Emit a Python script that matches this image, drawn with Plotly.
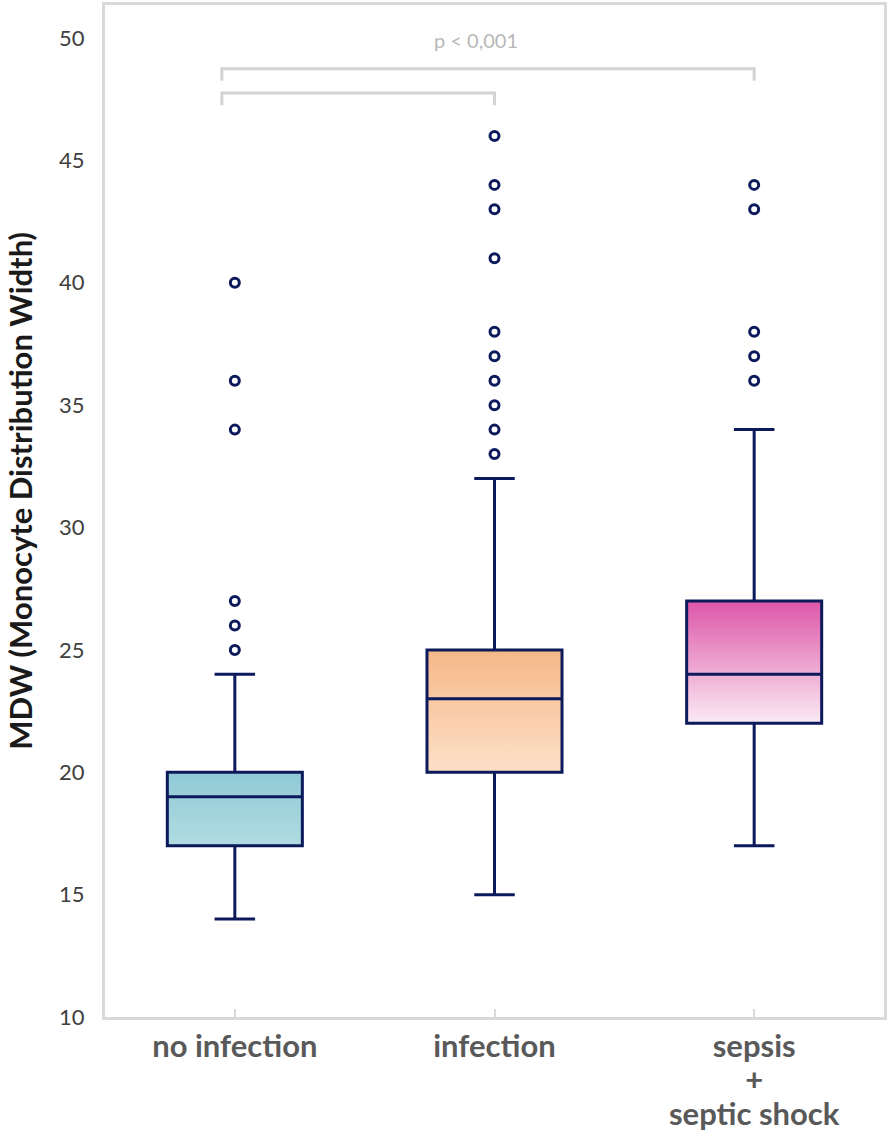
import plotly.graph_objs as go

# box statistics
groups = ["no infection", "infection", "sepsis<br>+<br>septic shock"]
lower_whisker = [14, 15, 17]
q1 = [17, 20, 22]
median = [19, 23, 24]
q3 = [20, 25, 27]
upper_whisker = [24, 32, 34]

outliers = [
    [25, 26, 27, 34, 36, 40],
    [33, 34, 35, 36, 37, 38, 41, 43, 44, 46],
    [36, 37, 38, 43, 44],
]

# gradient colours of the boxes (bottom, top)
bottom_colors = ["#b1dce2", "#fde0c8", "#fbebf4"]
top_colors = ["#8fc9d5", "#f6b888", "#dd56a8"]

p_text = "p < 0,001"
bracket_upper = 48.75
bracket_lower = 47.75
bracket_drop = 0.5
bracket_left_offset = -0.05

navy = "#0c1a5b"
box_width = 0.52
pos = list(range(len(groups)))
x_range = [-0.5, 2.5]

fig = go.Figure()

# gradient fill of each box between q1 and q3 (on the lower x axis, so the
# box outlines drawn on the overlaying axis stay on top)
for i in pos:
    x0, x1 = i - box_width / 2, i + box_width / 2
    fig.add_trace(go.Scatter(
        x=[x0, x1, x1, x0, x0], y=[q1[i], q1[i], q3[i], q3[i], q1[i]],
        mode="lines", line=dict(width=0), fill="toself",
        fillgradient=dict(type="vertical",
                          colorscale=[[0, bottom_colors[i]], [1, top_colors[i]]]),
        showlegend=False, hoverinfo="skip"))

fig.add_trace(go.Box(
    x=pos, q1=q1, median=median, q3=q3,
    lowerfence=lower_whisker, upperfence=upper_whisker,
    width=box_width, whiskerwidth=0.3,
    fillcolor="rgba(0,0,0,0)",
    line=dict(color=navy, width=3),
    xaxis="x2", showlegend=False))

for i, pts in zip(pos, outliers):
    fig.add_trace(go.Scatter(
        x=[i] * len(pts), y=pts, mode="markers",
        marker=dict(symbol="circle-open", size=9, color=navy, line=dict(width=3, color=navy)),
        xaxis="x2", showlegend=False))

# significance brackets
gray = "#d3d3d3"
for y, end in [(bracket_upper, pos[2]), (bracket_lower, pos[1])]:
    start = pos[0] + bracket_left_offset
    fig.add_trace(go.Scatter(
        x=[start, start, end, end],
        y=[y - bracket_drop, y, y, y - bracket_drop],
        mode="lines", line=dict(color=gray, width=3),
        xaxis="x2", showlegend=False, hoverinfo="skip"))

fig.add_annotation(
    x=0.93, y=49.9, xref="x", yref="y", text=p_text, showarrow=False,
    font=dict(family="Lato", size=20, color="#b8b8b8"))

# y title, sitting a little above the middle of the plot like the original
fig.add_annotation(
    x=0, xref="paper", xshift=-85, y=0.52, yref="paper",
    text="MDW (Monocyte Distribution Width)", textangle=-90, showarrow=False,
    xanchor="center", yanchor="middle",
    font=dict(size=31, color="#1a1a1a", family="Lato", weight="bold"))

fig.update_layout(
    width=891, height=1132,
    margin=dict(l=105, r=7, t=5, b=115),
    plot_bgcolor="white", paper_bgcolor="white",
    font=dict(family="Lato"),
    xaxis=dict(
        range=x_range, automargin=False,
        tickmode="array", tickvals=pos,
        ticktext=[f"<span style='font-size:31px'>{t}</span>" for t in groups],
        showline=True, mirror=True, linecolor="#d9d9d9", linewidth=3,
        ticks="inside", ticklen=8, tickcolor="#d9d9d9", tickwidth=2,
        ticklabelstandoff=6,
        tickfont=dict(size=26, color="#595959", family="Lato", weight="bold"),
        showgrid=False, zeroline=False),
    xaxis2=dict(range=x_range, overlaying="x", visible=False, automargin=False),
    yaxis=dict(
        range=[10, 51.35], automargin=False,
        tickvals=[10, 15, 20, 25, 30, 35, 40, 45, 50],
        showline=True, mirror=True, linecolor="#d9d9d9", linewidth=3,
        ticks="", ticklabelstandoff=13,
        tickfont=dict(size=22, color="#404040", family="Lato"),
        showgrid=False, zeroline=False),
)

fig.write_html("out.html", config={"displayModeBar": False},
               post_script="document.body.style.margin='0';")
